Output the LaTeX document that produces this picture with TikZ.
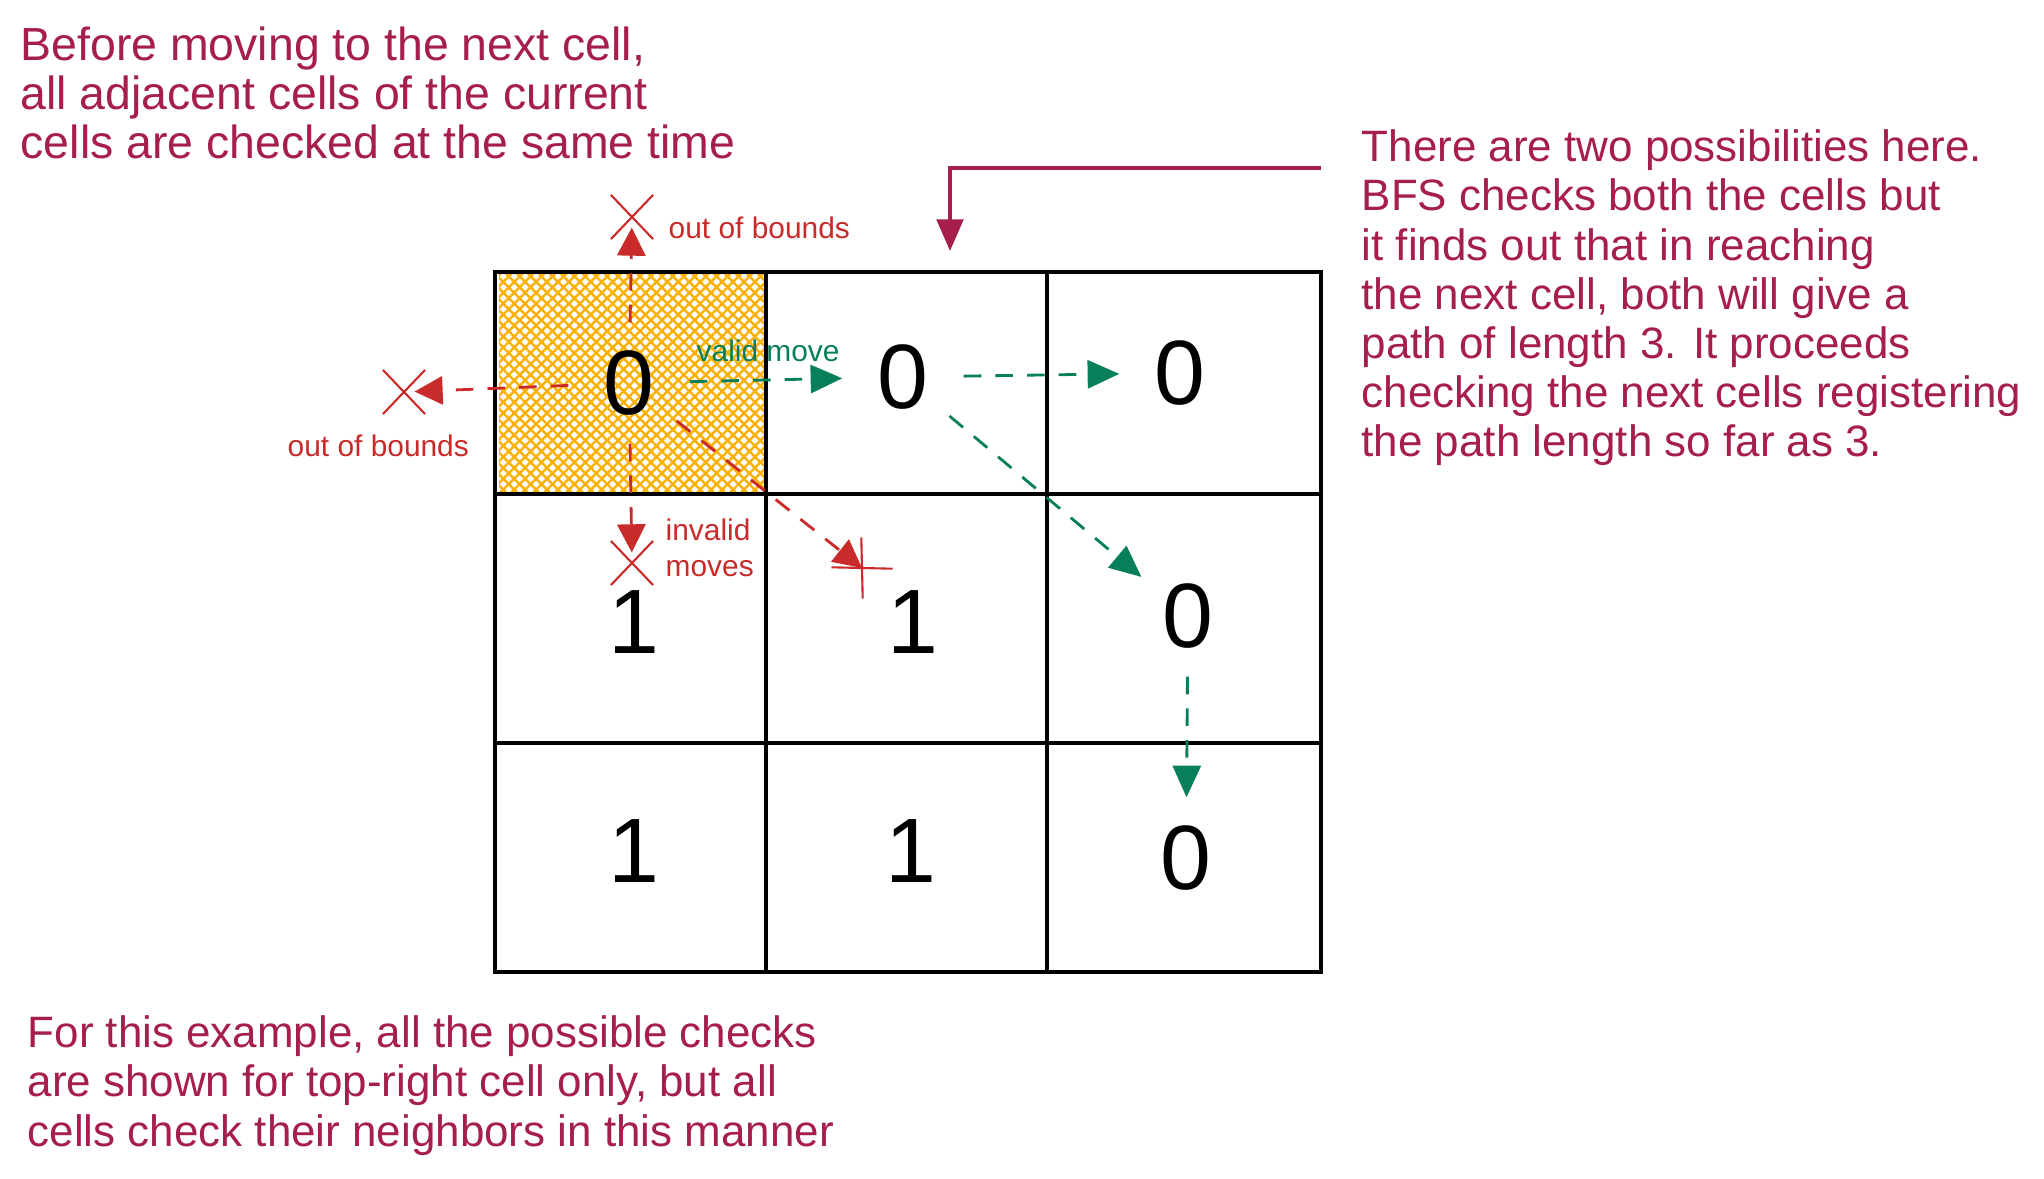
\documentclass[tikz,border=0pt]{standalone}
\usepackage{fontspec}
\setmainfont{Liberation Sans}
\usetikzlibrary{arrows.meta,patterns.meta,shapes.misc}
\definecolor{notecol}{HTML}{A61E4D}
\definecolor{badcol}{HTML}{C92A2A}
\definecolor{goodcol}{HTML}{087F5B}
\definecolor{hatchcol}{HTML}{FAB005}
\begin{document}
\begin{tikzpicture}[x=0.01cm,y=-0.01cm,
    digit/.style={circle,minimum size=1.2cm,inner sep=0pt,font=\fontsize{26}{26}\selectfont},
    note/.style={anchor=north west,inner sep=0pt,align=left,text=notecol,font=\fontsize{12.5}{14}\selectfont},
    small/.style={inner sep=0pt,align=left,font=\fontsize{8.5}{10.2}\selectfont},
    crossmark/.style={cross out,draw=badcol,line width=0.6pt,minimum width=0.4cm,minimum height=0.42cm,inner sep=0pt},
    bad/.style={badcol,line width=0.8pt,dash pattern=on 5pt off 4pt,-{Triangle[length=8pt,width=8pt]},shorten >=3pt},
    good/.style={goodcol,line width=0.8pt,dash pattern=on 5pt off 4pt,-{Triangle[length=9pt,width=8pt]}},
    notearrow/.style={notecol,line width=1.2pt,-{Triangle[length=9pt,width=7.5pt]}}]
  \useasboundingbox (0,0) rectangle (2044,1179);
  % current cell
  \fill[pattern={Lines[angle=45,distance=2.2pt,line width=0.7pt]},pattern color=hatchcol] (499,275) rectangle (766,492);
  \fill[pattern={Lines[angle=-45,distance=2.2pt,line width=0.7pt]},pattern color=hatchcol] (499,275) rectangle (766,492);
  % grid
  \draw[line width=1pt] (495,272) rectangle (1321,972);
  \draw[line width=1pt] (766,272) -- (766,972) (1047,272) -- (1047,972);
  \draw[line width=1pt] (495,494) -- (1321,494) (495,743) -- (1321,743);
  \node[digit] (c11) at (629,383) {0};
  \node[digit] (c12) at (903,377) {0};
  \node[digit] (c13) at (1180,373) {0};
  \node[digit] (c21) at (634,622) {1};
  \node[digit] (c22) at (913,622) {1};
  \node[digit] (c23) at (1188,616) {0};
  \node[digit] (c31) at (634,851) {1};
  \node[digit] (c32) at (911,851) {1};
  \node[digit] (c33) at (1186,858) {0};
  % checks
  \node[crossmark] (upX) at (632,217) {};
  \node[crossmark] (leftX) at (404,392) {};
  \node[crossmark] (downX) at (632,563) {};
  \node[crossmark,rotate=45] (diagX) at (862,568) {};
  \draw[bad] (c11) -- (upX.center);
  \draw[bad] (c11) -- (leftX.center);
  \draw[bad] (c11) -- (downX.center);
  \draw[bad,shorten >=0pt] (c11) -- (diagX.center);
  \draw[good] (c11) -- (c12);
  \draw[good] (c12) -- (c13);
  \draw[good] (c12) -- (c23);
  \draw[good] (c23) -- (c33);
  \node[small,text=badcol,anchor=base west] (uplbl) at (668,239) {out of bounds};
  \node[small,text=badcol,anchor=base west] (leftlbl) at (287,457) {out of bounds};
  \node[small,text=goodcol,anchor=base west] (validlbl) at (696,362) {valid move};
  \node[small,text=badcol,anchor=north west] (invalidlbl) at (665,518) {invalid\\moves};
  % notes
  \node[note,font=\fontsize{13.2}{14}\selectfont] (topnote) at (20,26) {Before moving to the next cell,\\all adjacent cells of the current\\cells are checked at the same time};
  \node[note] (rightnote) at (1361,129) {There are two possibilities here.\\BFS checks both the cells but\\it finds out that in reaching\\the next cell, both will give a\\path of length 3. It proceeds\\checking the next cells registering\\the path length so far as 3.};
  \node[note] (bottomnote) at (27,1015) {For this example, all the possible checks\\are shown for top-right cell only, but all\\cells check their neighbors in this manner};
  \coordinate (p1) at (1321,168);
  \coordinate (p2) at (950,251);
  \draw[notearrow] (p1) -| (p2);
\end{tikzpicture}
\end{document}
